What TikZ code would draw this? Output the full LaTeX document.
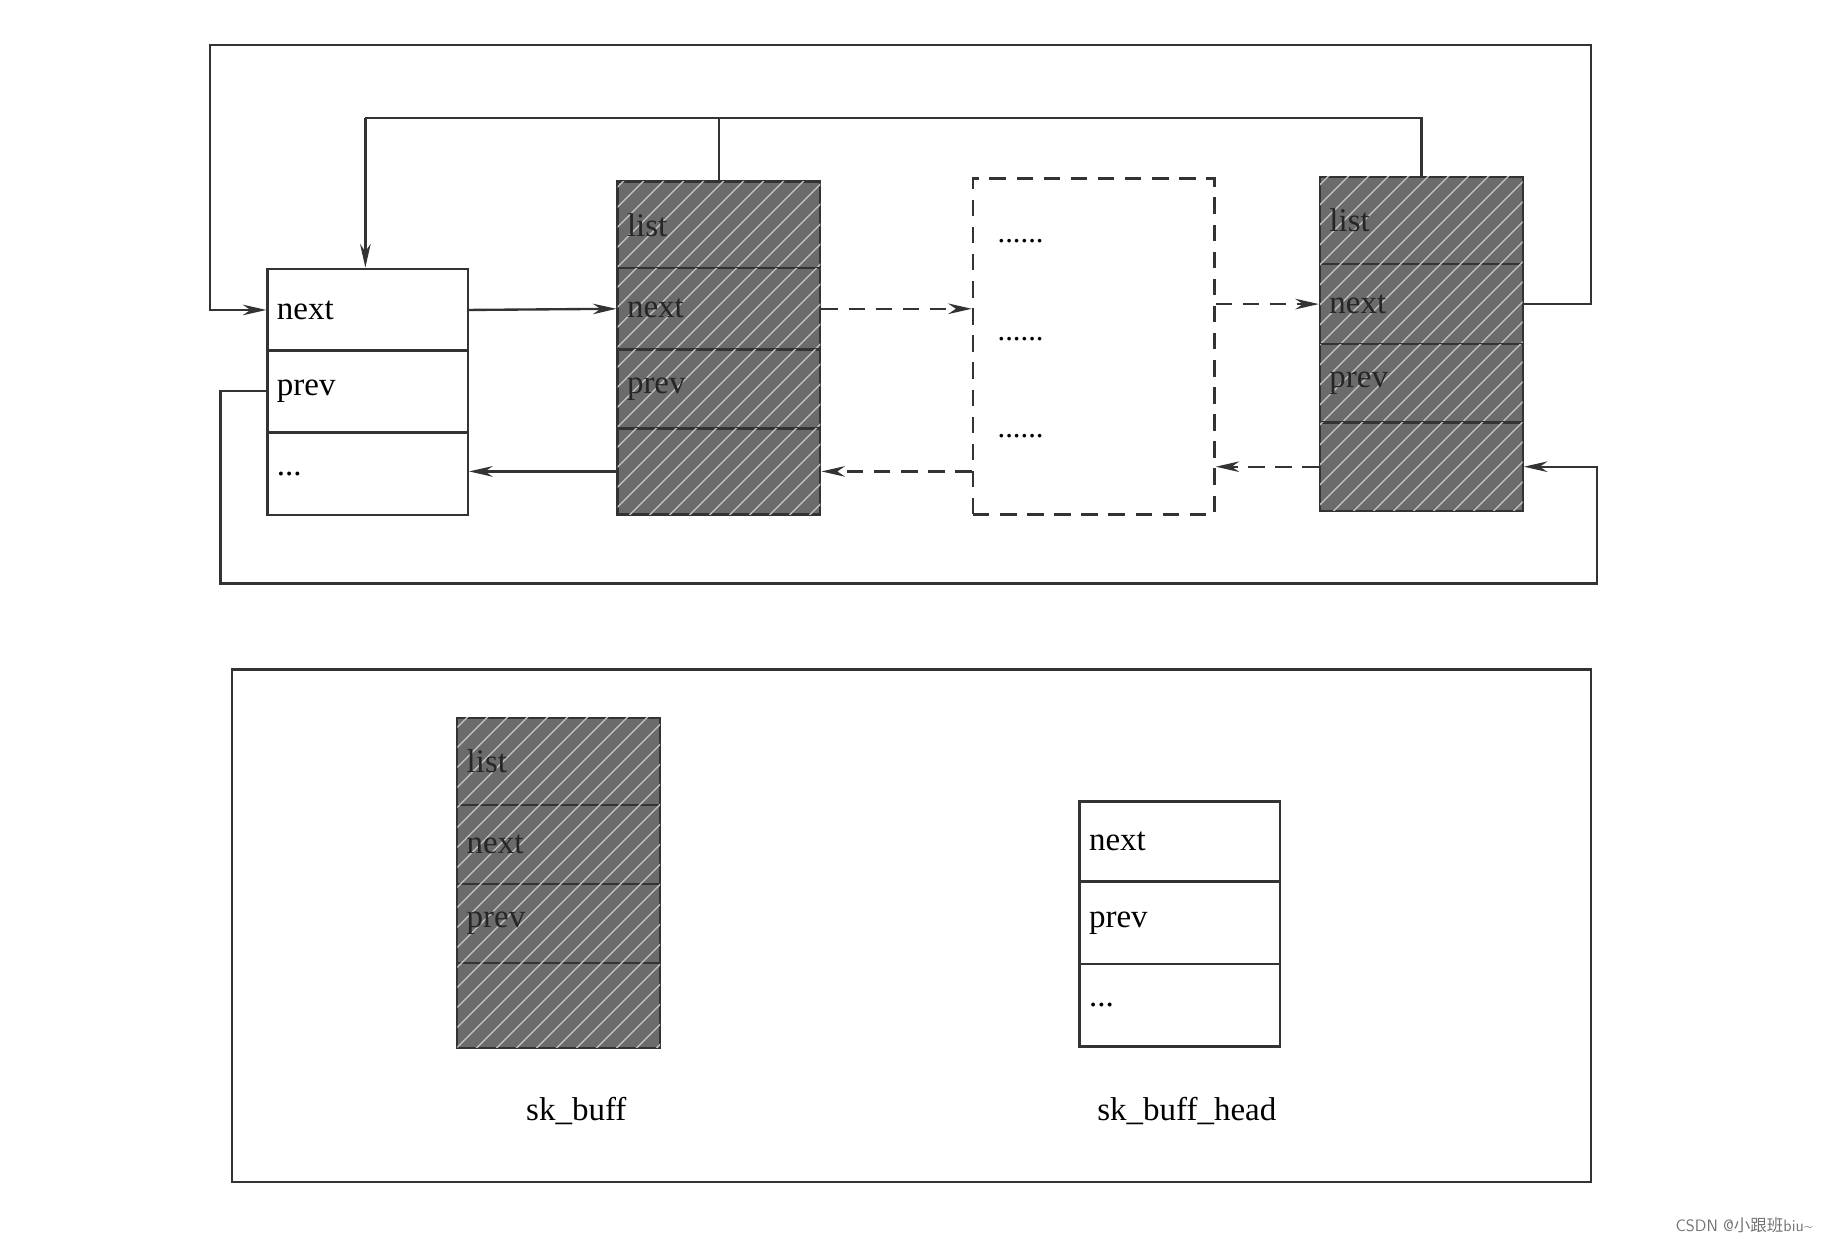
\documentclass[tikz,border=0pt]{standalone}
\usepackage{fontspec}
\setmainfont{Liberation Serif}
\newfontfamily\cjk{Noto Sans CJK SC}
\usetikzlibrary{patterns.meta,arrows.meta}
\begin{document}
\begin{tikzpicture}[x=1pt,y=-1pt,
  line/.style={draw=black!80,line width=2pt},
  arr/.style={line,-{Stealth[length=20pt,width=9pt]}},
  darr/.style={arr,dash pattern=on 14pt off 9pt},
  cell/.style={line,minimum width=#1,inner sep=0pt,font=\fontsize{28}{30}\selectfont,
    text width=#1-16pt,align=left,anchor=center},
  wc/.style={cell=170pt,fill=white},
  hc/.style={cell=172pt,fill=black!58,text=black!85,postaction={pattern={Lines[angle=45,distance=12pt,line width=1.2pt]},pattern color=white!75!black}},
  dots/.style={font=\fontsize{26}{28}\selectfont}]
\useasboundingbox (0,0) rectangle (1568,1056);
% head
\node[wc,minimum height=70pt] (hn) at (312,263) {next};
\node[wc,minimum height=69pt] (hp) at (312,332) {prev};
\node[wc,minimum height=70pt] (hd) at (312,402) {...};
% skb1
\node[hc,minimum height=74pt] (s1l) at (610,191) {list};
\node[hc,minimum height=69pt] (s1n) at (610,262) {next};
\node[hc,minimum height=67pt] (s1p) at (610,330) {prev};
\node[hc,minimum height=73pt] (s1b) at (610,400) {};
% dashed box
\node[line,dash pattern=on 14pt off 9pt,minimum width=205pt,minimum height=285pt] (db) at (928,294) {};
\node[dots] (d1) at (866,205) {......};
\node[dots] (d2) at (866,288) {......};
\node[dots] (d3) at (866,370) {......};
% skb2
\node[hc,minimum height=74pt] (s2l) at (1206,187) {list};
\node[hc,minimum height=68pt] (s2n) at (1206,258) {next};
\node[hc,minimum height=66pt] (s2p) at (1206,325) {prev};
\node[hc,minimum height=75pt] (s2b) at (1206,396) {};
% forward
\draw[arr] (hn.east) -- (s1n.west);
\draw[darr] (s1n.east) -- (s1n.east -| db.west);
\draw[darr] (db.east |- s2n.west) -- (s2n.west);
% backward
\draw[arr] (s1b.west) -- (s1b.west -| hd.east);
\draw[darr] (db.west |- s1b.east) -- (s1b.east);
\draw[darr] (s2b.west) -- (s2b.west -| db.east);
% loops
\coordinate (c1) at (1350,38);
\coordinate (c2) at (178,38);
\draw[arr] (s2n.east) -| (c1) -- (c2) |- (hn.west);
\coordinate (c3) at (310,100);
\draw[line] (s1l.north) -- (s1l.north |- c3);
\draw[line] (s2l.north) |- (c3);
\draw[arr] (c3) -- (c3 |- hn.north);
\coordinate (c4) at (187,495);
\coordinate (c5) at (1355,495);
\draw[arr] (hp.west) -| (c4) -- (c5) |- (s2b.east);
% legend
\node[line,minimum width=1153pt,minimum height=435pt] (lg) at (773.5,785.5) {};
\node[hc,minimum height=74pt] (l1) at (474,646) {list};
\node[hc,minimum height=67pt] (l2) at (474,716.5) {next};
\node[hc,minimum height=67pt] (l3) at (474,783.5) {prev};
\node[hc,minimum height=72pt] (l4) at (474,853) {};
\node[font=\fontsize{28}{30}\selectfont] (t1) at (489,943) {sk\_buff};
\node[wc,minimum height=68pt] (r1) at (1001,714) {next};
\node[wc,minimum height=70pt] (r2) at (1001,783) {prev};
\node[wc,minimum height=70pt] (r3) at (1001,853) {...};
\node[font=\fontsize{28}{30}\selectfont] (t2) at (1007,943) {sk\_buff\_head};
\node[font=\fontsize{14}{16}\selectfont\sffamily,text=black!55] (wm) at (1480,1040) {CSDN @{\cjk 小跟班}biu\textasciitilde};
\end{tikzpicture}
\end{document}
